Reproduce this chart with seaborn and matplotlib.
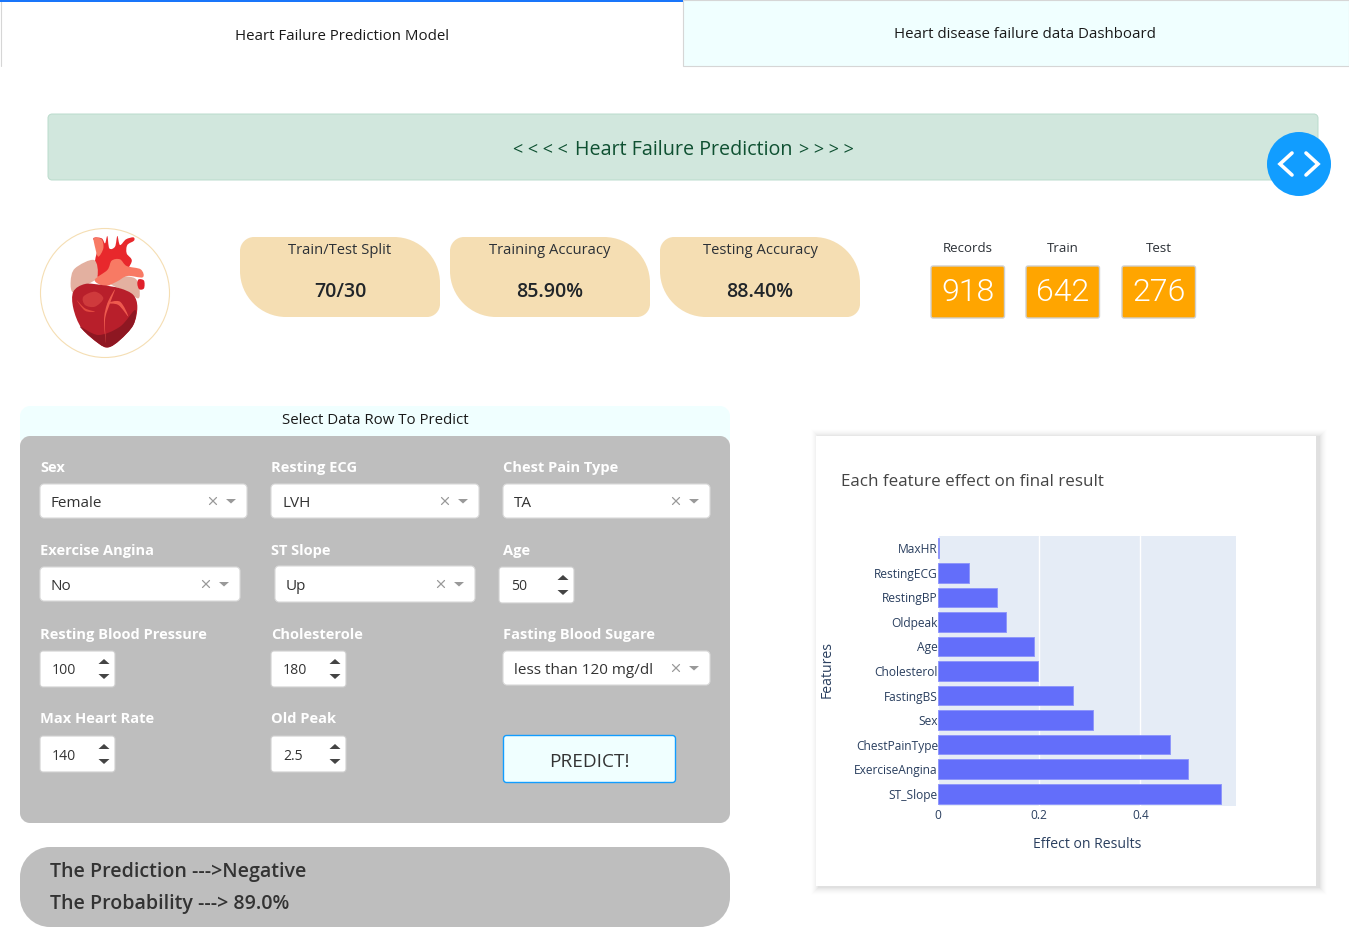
import matplotlib
matplotlib.use('Agg')
import matplotlib.pyplot as plt
import seaborn as sns
import pandas as pd
from matplotlib.patches import PathPatch, Circle, Rectangle, Polygon
from matplotlib.path import Path
from matplotlib.transforms import Affine2D

# chart values
feature_names = ['MaxHR', 'RestingECG', 'RestingBP', 'Oldpeak', 'Age', 'Cholesterol',
                 'FastingBS', 'Sex', 'ChestPainType', 'ExerciseAngina', 'ST_Slope']
feature_effects = [0.001, 0.060, 0.117, 0.134, 0.189, 0.197, 0.267, 0.306, 0.459, 0.495, 0.560]
effect_ticks = [0, 0.2, 0.4]
effect_tick_labels = ['0', '0.2', '0.4']

# page texts
card_titles = ['Train/Test Split', 'Training Accuracy', 'Testing Accuracy']
card_values = ['70/30', '85.90%', '88.40%']
led_titles = ['Records', 'Train', 'Test']
led_values = ['918', '642', '276']

W, H = 1349, 950
FONT = 'Open Sans'
INK = '#212529'
AZURE = '#f0ffff'
SILVER = '#bebebe'

sns.set_theme(style='white')
plt.rcParams['font.family'] = [FONT, 'DejaVu Sans']

fig = plt.figure(figsize=(W / 100, H / 100), dpi=100, facecolor='white')
page = fig.add_axes([0, 0, 1, 1])
page.set_xlim(0, W)
page.set_ylim(H, 0)
page.axis('off')


def px(size):
    return size * 0.72


def label(x, y, s, size=15, color=INK, ha='center', weight='normal', **kw):
    # +2: va='center' sits a bit high compared with the browser text
    page.text(x, y + 2, s, fontsize=px(size), color=color, ha=ha, va='center', fontweight=weight, **kw)


def round_box(x0, y0, x1, y1, r, fc='white', ec='none', lw=1, zorder=2, alpha=None):
    # r = one radius, or (top left, top right, bottom right, bottom left)
    if not isinstance(r, (tuple, list)):
        r = (r, r, r, r)
    tl, tr, br, bl = r
    k = 0.45
    verts = [(x0 + tl, y0), (x1 - tr, y0),
             (x1 - tr * k, y0), (x1, y0 + tr * k), (x1, y0 + tr),
             (x1, y1 - br),
             (x1, y1 - br * k), (x1 - br * k, y1), (x1 - br, y1),
             (x0 + bl, y1),
             (x0 + bl * k, y1), (x0, y1 - bl * k), (x0, y1 - bl),
             (x0, y0 + tl),
             (x0, y0 + tl * k), (x0 + tl * k, y0), (x0 + tl, y0)]
    codes = [Path.MOVETO, Path.LINETO,
             Path.CURVE4, Path.CURVE4, Path.CURVE4,
             Path.LINETO,
             Path.CURVE4, Path.CURVE4, Path.CURVE4,
             Path.LINETO,
             Path.CURVE4, Path.CURVE4, Path.CURVE4,
             Path.LINETO,
             Path.CURVE4, Path.CURVE4, Path.CURVE4]
    p = PathPatch(Path(verts, codes), facecolor=fc, edgecolor=ec, linewidth=lw, zorder=zorder, alpha=alpha)
    page.add_patch(p)


def dropdown(x0, y0, x1, y1, value):
    round_box(x0, y0, x1, y1, 4, fc='white', ec='#d9d9d9', lw=0.8, zorder=3)
    label(x0 + 11, (y0 + y1) / 2 + 0.5, value, size=15.2, color='#333333', ha='left', zorder=4)
    cy = (y0 + y1) / 2
    cx = x1 - 34
    page.plot([cx - 3.5, cx + 3.5], [cy - 3.5, cy + 3.5], color='#999999', lw=0.9, zorder=4)
    page.plot([cx - 3.5, cx + 3.5], [cy + 3.5, cy - 3.5], color='#999999', lw=0.9, zorder=4)
    ax_x = x1 - 16
    page.add_patch(Polygon([(ax_x - 5, cy - 2), (ax_x + 5, cy - 2), (ax_x, cy + 2.5)],
                           facecolor='#999999', edgecolor='none', zorder=4))


def number_box(x0, y0, value):
    x1, y1 = x0 + 75, y0 + 36
    round_box(x0, y0, x1, y1, 3, fc='white', ec='#d0d0d0', lw=0.8, zorder=3)
    label(x0 + 12, (y0 + y1) / 2, value, size=14, color='#333333', ha='left', zorder=4)
    sx = x1 - 11
    page.add_patch(Polygon([(sx - 5.5, y0 + 13), (sx + 5.5, y0 + 13), (sx, y0 + 8)],
                           facecolor='#444444', edgecolor='none', zorder=4))
    page.add_patch(Polygon([(sx - 5.5, y1 - 13), (sx + 5.5, y1 - 13), (sx, y1 - 8)],
                           facecolor='#444444', edgecolor='none', zorder=4))


# tabs
page.add_patch(Rectangle((683, 0), W - 683, 65.5, facecolor=AZURE, edgecolor='#d6d6d6', lw=0.8, zorder=1))
page.plot([0.5, 0.5], [0, 66], color='#d6d6d6', lw=0.8, zorder=2)
page.add_patch(Rectangle((0, 0), 683, 2, facecolor='#1975fa', edgecolor='none', zorder=2))
label(342, 34, 'Heart Failure Prediction Model', size=15, color='#1a1a1a')
label(1025, 33, 'Heart disease failure data Dashboard', size=15, color='#1a1a1a')

# banner
round_box(48, 114, 1318, 180, 4, fc='#d1e7dd', ec='#badbcc', lw=0.7)
label(540.5, 148, '< < < <', size=18, color='#0f5132')
label(683.5, 148, 'Heart Failure Prediction', size=19.8, color='#0f5132')
label(826, 148, '> > > >', size=18, color='#0f5132')

# round blue badge
page.add_patch(Circle((1299, 164), 32, facecolor='#119dff', edgecolor='none', zorder=5))
page.plot([1292, 1280, 1292], [153, 164, 175], color='white', lw=2.6, zorder=6, solid_joinstyle='miter')
page.plot([1306, 1318, 1306], [153, 164, 175], color='white', lw=2.6, zorder=6, solid_joinstyle='miter')

# heart picture, traced in zoomed coordinates
page.add_patch(Circle((105, 293), 64.5, facecolor='white', edgecolor='#f5deb3', lw=0.8, zorder=2))
to_page = Affine2D().scale(1 / 3).translate(20, 220) + page.transData


def blob(points, color, zorder=3):
    # closed smooth outline through the points (catmull-rom to bezier)
    n = len(points)
    verts = [points[0]]
    codes = [Path.MOVETO]
    for i in range(n):
        p0, p1, p2, p3 = points[i - 1], points[i], points[(i + 1) % n], points[(i + 2) % n]
        c1 = (p1[0] + (p2[0] - p0[0]) / 6, p1[1] + (p2[1] - p0[1]) / 6)
        c2 = (p2[0] - (p3[0] - p1[0]) / 6, p2[1] - (p3[1] - p1[1]) / 6)
        verts += [c1, c2, p2]
        codes += [Path.CURVE4] * 3
    page.add_patch(PathPatch(Path(verts, codes), facecolor=color, edgecolor='none', zorder=zorder, transform=to_page))


# vessels on top
blob([(220, 55), (245, 55), (255, 70), (262, 48), (268, 85), (285, 80), (292, 48), (300, 75),
      (318, 58), (340, 52), (342, 62), (322, 75), (320, 100), (335, 125), (300, 170), (240, 180), (225, 130), (232, 85)],
     '#e8282c', 3)
blob([(222, 55), (245, 58), (250, 85), (235, 110), (226, 85)], '#f87a64', 4)
# beige chambers
blob([(152, 185), (165, 145), (222, 120), (232, 170), (200, 195), (160, 218)], '#e3b0a0', 3)
blob([(270, 190), (300, 170), (345, 175), (358, 205), (355, 235), (320, 215)], '#e3b0a0', 3)
# pulmonary artery
blob([(224, 180), (262, 150), (275, 122), (300, 118), (320, 138), (362, 148), (368, 172), (322, 168), (290, 185), (255, 198)],
     '#f87a64', 4)
blob([(356, 178), (372, 182), (372, 205), (358, 208), (352, 192)], '#e0202b', 3)
# main body
blob([(160, 215), (195, 192), (245, 195), (300, 205), (340, 225), (352, 262), (340, 315), (300, 360), (265, 382),
      (235, 370), (185, 325), (160, 265)], '#b81f2b', 5)
blob([(180, 320), (235, 345), (300, 320), (345, 270), (340, 315), (300, 360), (265, 382), (235, 370)], '#8e1722', 6)
blob([(190, 230), (225, 215), (250, 235), (225, 260), (195, 255)], '#cf3a3c', 6)
# veins
blob([(285, 208), (270, 250), (255, 300), (258, 370), (252, 300), (262, 250)], '#ee5a4e', 7)
blob([(262, 250), (300, 245), (325, 290), (295, 255)], '#ee5a4e', 7)
blob([(170, 240), (195, 265), (225, 275), (195, 272)], '#e2483f', 7)

# stat cards
for i, (title, value) in enumerate(zip(card_titles, card_values)):
    x0 = 240 + i * 210
    round_box(x0, 237, x0 + 200, 317, (14, 46, 13, 46), fc='#f5deb3')
    label(x0 + 100, 249, title, size=14.7, color='#2b3036')
    label(x0 + 100, 290, value, size=19.5, color=INK, weight=600)

# led counters
for i, (title, value) in enumerate(zip(led_titles, led_values)):
    x0 = [931, 1026, 1122][i]
    label(x0 + 37, 247, title, size=13.2, color='#2b3036')
    round_box(x0, 266, x0 + 73.5, 318, 2, fc='#ffa500', ec='#cfcfcf', lw=1)
    page.text(x0 + 37, 292.5, value, fontsize=px(32), color='white', ha='center', va='center',
              family=['Roboto', 'DejaVu Sans'], fontweight=300, zorder=4)

# input panel
round_box(20, 406, 730, 440, (10, 10, 0, 0), fc=AZURE, zorder=1)
label(375, 419, 'Select Data Row To Predict', size=15, color='#1a1a1a')
round_box(20, 436, 730, 823, 10, fc=SILVER)

for x, y, s in [(40, 466, 'Sex'), (271, 466, 'Resting ECG'), (503, 466, 'Chest Pain Type'),
                (40, 549, 'Exercise Angina'), (271, 549, 'ST Slope'), (503, 549, 'Age'),
                (40, 633, 'Resting Blood Pressure'), (271, 633, 'Cholesterole'), (503, 633, 'Fasting Blood Sugare'),
                (40, 717, 'Max Heart Rate'), (271, 717, 'Old Peak')]:
    label(x, y, s, size=14.6, color='white', ha='left', weight='bold', zorder=3)

dropdown(40, 484, 247, 518, 'Female')
dropdown(271, 484, 479, 518, 'LVH')
dropdown(503, 484, 710, 518, 'TA')
dropdown(40, 567, 240, 601, 'No')
dropdown(275, 566, 475, 602, 'Up')
dropdown(503, 651, 710, 685, 'less than 120 mg/dl')
number_box(499, 567, '50')
number_box(40, 651, '100')
number_box(271, 651, '180')
number_box(40, 736, '140')
number_box(271, 736, '2.5')

round_box(503.5, 735.5, 675.5, 782.5, 3, fc=AZURE, ec='#119dff', lw=1, zorder=3)
label(589, 760, 'PREDICT!', size=19, color='#333333', zorder=4)

# prediction panel
round_box(20, 847, 730, 927, 30, fc=SILVER)
label(50, 870, 'The Prediction --->Negative', size=19.6, color='#333333', ha='left', weight=600, zorder=3)
label(50, 902, 'The Probability ---> 89.0%', size=19.6, color='#333333', ha='left', weight=600, zorder=3)

# graph card with soft shadow
for grow in range(1, 9):
    page.add_patch(Rectangle((816 - grow + 3, 436 - grow + 1), 500 + 2 * grow, 450 + 2 * grow,
                             facecolor='black', edgecolor='none', alpha=0.03 * (1 - grow / 9), zorder=1))
page.add_patch(Rectangle((816, 436), 500, 450, facecolor='white', edgecolor='none', zorder=2))
label(841, 480, 'Each feature effect on final result', size=17, color='#444444', ha='left', zorder=3)

# bar chart
ax = fig.add_axes([938.3 / W, 1 - 806 / H, (1236 - 938.3) / W, 270 / H], zorder=5)
ax.set_facecolor('#e5ecf6')
df = pd.DataFrame({'Features': feature_names, 'Effect on Results': feature_effects})
sns.barplot(data=df, x='Effect on Results', y='Features', orient='h', ax=ax, color='#636efa',
            saturation=1, width=0.8, edgecolor='#8f97fb', linewidth=0.7, zorder=3)
ax.set_xlim(0, 0.5895)
ax.set_ylim(10.5, -0.5)
ax.set_xticks(effect_ticks)
ax.set_xticklabels(effect_tick_labels)
ax.xaxis.grid(True, color='white', lw=1, zorder=1)
ax.yaxis.grid(False)
ax.set_axisbelow(True)
ax.tick_params(axis='both', length=0, labelsize=px(12), labelcolor='#2a3f5f')
ax.tick_params(axis='y', pad=0.3)
ax.tick_params(axis='x', pad=2)
for t in ax.get_yticklabels():
    t.set_verticalalignment('center_baseline')
sns.despine(ax=ax, left=True, bottom=True, top=True, right=True)
ax.set_xlabel('')
ax.set_ylabel('')
label(1087, 843, 'Effect on Results', size=14, color='#2a3f5f', zorder=6)
label(827, 668, 'Features', size=14, color='#2a3f5f', rotation=90, zorder=6)

fig.savefig('out.png', dpi=100, facecolor='white')
